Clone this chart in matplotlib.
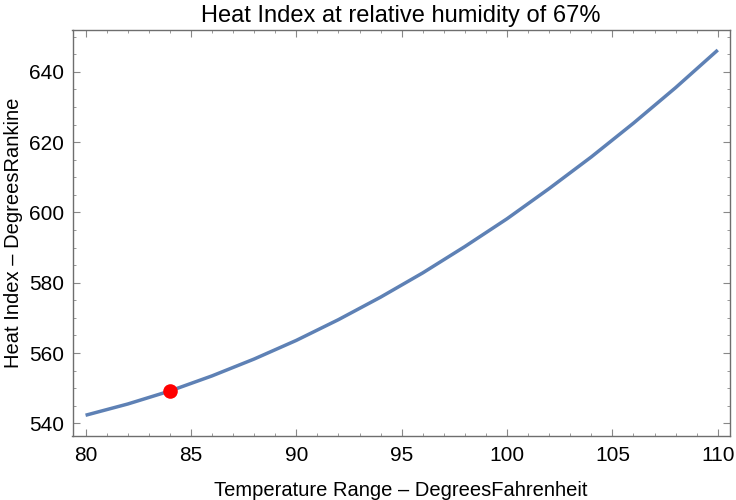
import matplotlib
matplotlib.use("Agg")
import matplotlib.pyplot as plt
from matplotlib.ticker import MultipleLocator

# Values
temps_f = [80, 82, 84, 86, 88, 90, 92, 94, 96, 98, 100, 102, 104, 106, 108, 110]
heat_index_r = [542.3, 545.5, 549.2, 553.5, 558.3, 563.6, 569.5, 575.9, 582.8,
                590.3, 598.2, 606.8, 615.8, 625.4, 635.5, 646.2]
point_t = [84]
point_hi = [549.2]

title = "Heat Index at relative humidity of 67%"
xlabel = "Temperature Range \u2013 DegreesFahrenheit"
ylabel = "Heat Index \u2013 DegreesRankine"
xticks = [80, 85, 90, 95, 100, 105, 110]
yticks = [540, 560, 580, 600, 620, 640]

plt.rcParams['font.family'] = ['Liberation Sans', 'DejaVu Sans']

fig = plt.figure(figsize=(7.36, 5.0), dpi=100)
ax = fig.add_axes([72.5 / 736, 64 / 500, (730 - 72.5) / 736, (436 - 30) / 500])

ax.plot(temps_f, heat_index_r, color='#5E81B5', lw=2.5, solid_capstyle='butt')
ax.plot(point_t, point_hi, 'o', color='#FF0000', ms=10.5, mec='none')

ax.set_xlim(79.38, 110.58)
ax.set_ylim(536.4, 651.9)
ax.set_xticks(xticks)
ax.set_yticks(yticks)
ax.xaxis.set_minor_locator(MultipleLocator(1))
ax.yaxis.set_minor_locator(MultipleLocator(5))

frame_col = '#6e6e6e'
for s in ax.spines.values():
    s.set_color(frame_col)
    s.set_linewidth(1.0)
ax.tick_params(which='both', direction='in', top=True, right=True,
               color='#888888', labelsize=15, labelcolor='black')
ax.tick_params(which='major', length=5, width=0.8)
ax.tick_params(which='minor', length=2.5, width=0.6)
ax.tick_params(axis='x', which='major', pad=7)
ax.tick_params(axis='y', which='major', pad=6)
ax.tick_params(axis='x', which='both', labeltop=False)
ax.tick_params(axis='y', which='both', labelright=False)

ax.set_title(title, fontsize=17, pad=6)
ax.set_xlabel(xlabel, fontsize=14.5, labelpad=12)
ax.set_ylabel(ylabel, fontsize=14.5, labelpad=4)

fig.savefig("out.png", dpi=100)
